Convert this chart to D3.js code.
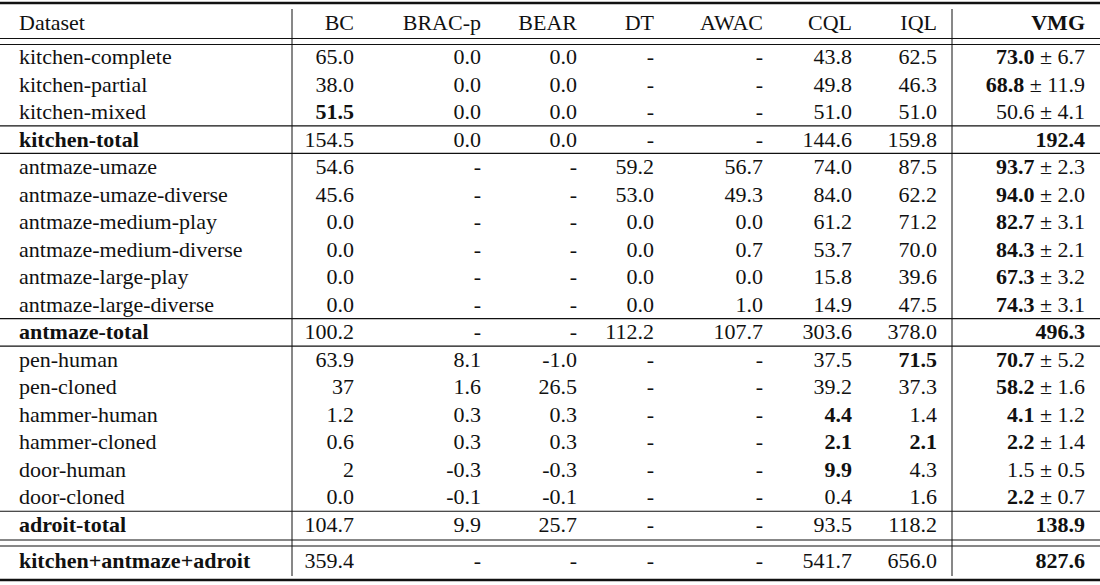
<!DOCTYPE html>
<html><head><meta charset="utf-8">
<script src="https://cdn.jsdelivr.net/npm/d3@7"></script>
<style>body{margin:0;background:#fff}svg text{font-family:'Liberation Serif','Times New Roman','DejaVu Serif',serif;font-size:22px;fill:#111}</style>
</head><body><div id="chart"></div>
<script>
// table content
const datasets = ["kitchen-complete","kitchen-partial","kitchen-mixed","kitchen-total",
  "antmaze-umaze","antmaze-umaze-diverse","antmaze-medium-play","antmaze-medium-diverse","antmaze-large-play","antmaze-large-diverse","antmaze-total",
  "pen-human","pen-cloned","hammer-human","hammer-cloned","door-human","door-cloned","adroit-total",
  "kitchen+antmaze+adroit"];
const methods = ["BC","BRAC-p","BEAR","DT","AWAC","CQL","IQL"];
const BC    = ["65.0","38.0","51.5","154.5","54.6","45.6","0.0","0.0","0.0","0.0","100.2","63.9","37","1.2","0.6","2","0.0","104.7","359.4"];
const BRACp = ["0.0","0.0","0.0","0.0","-","-","-","-","-","-","-","8.1","1.6","0.3","0.3","-0.3","-0.1","9.9","-"];
const BEAR  = ["0.0","0.0","0.0","0.0","-","-","-","-","-","-","-","-1.0","26.5","0.3","0.3","-0.3","-0.1","25.7","-"];
const DT    = ["-","-","-","-","59.2","53.0","0.0","0.0","0.0","0.0","112.2","-","-","-","-","-","-","-","-"];
const AWAC  = ["-","-","-","-","56.7","49.3","0.0","0.7","0.0","1.0","107.7","-","-","-","-","-","-","-","-"];
const CQL   = ["43.8","49.8","51.0","144.6","74.0","84.0","61.2","53.7","15.8","14.9","303.6","37.5","39.2","4.4","2.1","9.9","0.4","93.5","541.7"];
const IQL   = ["62.5","46.3","51.0","159.8","87.5","62.2","71.2","70.0","39.6","47.5","378.0","71.5","37.3","1.4","2.1","4.3","1.6","118.2","656.0"];
const vmgMean = ["73.0","68.8","50.6","192.4","93.7","94.0","82.7","84.3","67.3","74.3","496.3","70.7","58.2","4.1","2.2","1.5","2.2","138.9","827.6"];
const vmgStd  = ["6.7","11.9","4.1","","2.3","2.0","3.1","2.1","3.2","3.1","","5.2","1.6","1.2","1.4","0.5","0.7","",""];
const vmgBold = [1,1,0,1,1,1,1,1,1,1,1,1,1,1,1,0,1,1,1];
const boldCells = ["BC:2","IQL:11","CQL:13","CQL:14","IQL:14","CQL:15"];
const totalRows = [3,10,17,18];

const cols = [BC,BRACp,BEAR,DT,AWAC,CQL,IQL];
const colRight = [354,481,577,654,763,852,937];

const W = 1100, H = 585;
const svg = d3.select("#chart").append("svg").attr("width",W).attr("height",H)
  .attr("font-family","Liberation Serif, serif");

// row positions
const y = d3.scaleLinear().domain([0,17]).range([57,525]);
const rowY = i => i === 18 ? 561 : y(i);
const midY = i => (rowY(i) + rowY(i+1)) / 2;
const base = 7;

const hline = (yy, w) => svg.append("line").attr("x1",0).attr("x2",W).attr("y1",yy).attr("y2",yy)
  .attr("stroke","#111").attr("stroke-width",w);
hline(3,2.5); hline(38.5,1.2); hline(44.5,1.2);
[2,3,9,10,16].forEach(i => hline(midY(i),1.2));
hline(midY(17)-3,1.2); hline(midY(17)+3,1.2);
hline(580,2.5);

[292,952].forEach(x => svg.append("line").attr("x1",x).attr("x2",x).attr("y1",9).attr("y2",576)
  .attr("stroke","#111").attr("stroke-width",1));

// header
const hy = 23 + base;
svg.append("text").attr("x",19).attr("y",hy).text("Dataset");
methods.forEach((m,j) => svg.append("text").attr("x",colRight[j]).attr("y",hy).attr("text-anchor","end").text(m));
svg.append("text").attr("x",1085).attr("y",hy).attr("text-anchor","end").attr("font-weight","bold").text("VMG");

// dataset names
svg.selectAll("text.name").data(datasets).join("text").attr("class","name")
  .attr("x",19).attr("y",(d,i) => rowY(i)+base)
  .attr("font-weight",(d,i) => totalRows.includes(i) ? "bold" : null)
  .text(d => d);

// method columns
cols.forEach((col,j) => {
  svg.selectAll("text.c"+j).data(col).join("text").attr("class","c"+j)
    .attr("x",colRight[j]).attr("y",(d,i) => rowY(i)+base).attr("text-anchor","end")
    .attr("font-weight",(d,i) => boldCells.includes(methods[j]+":"+i) ? "bold" : null)
    .text(d => d);
});

// VMG column
vmgMean.forEach((m,i) => {
  const t = svg.append("text").attr("x",1085).attr("y",rowY(i)+base).attr("text-anchor","end");
  t.append("tspan").attr("font-weight",vmgBold[i] ? "bold" : null).text(m);
  if (vmgStd[i]) t.append("tspan").text(" \u00b1 " + vmgStd[i]);
});
</script></body></html>
